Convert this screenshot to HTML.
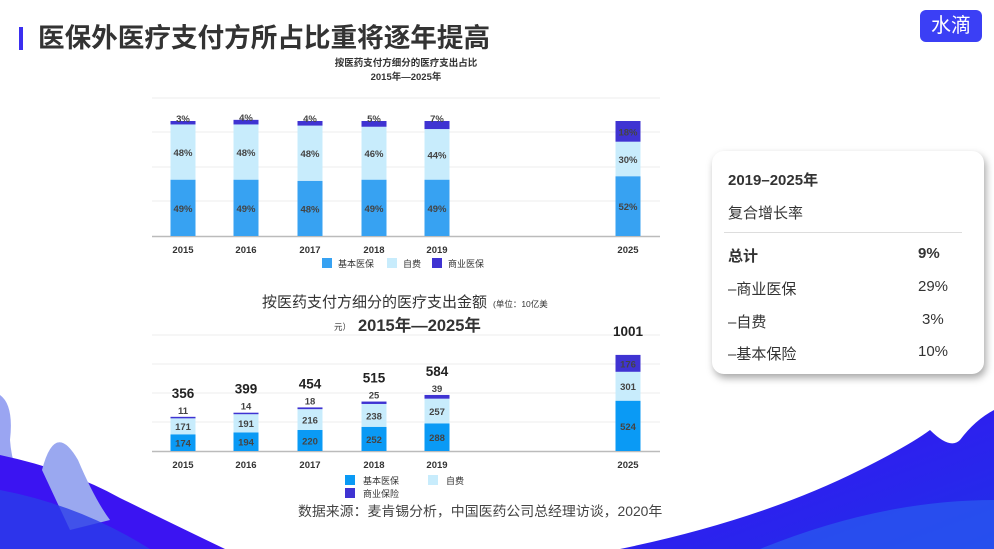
<!DOCTYPE html>
<html><head><meta charset="utf-8">
<style>
body{margin:0;width:994px;height:549px;overflow:hidden;background:#fff;font-family:"Liberation Sans","Noto Sans CJK SC",sans-serif;position:relative}
svg text{font-family:"Liberation Sans","Noto Sans CJK SC",sans-serif}
.panel{position:absolute;left:712px;top:151px;width:272px;height:223px;background:#fff;border-radius:12px;box-shadow:2px 4px 8px rgba(0,0,0,0.35)}
.panel div{position:absolute;color:#333;font-size:15px}
</style></head><body>
<svg width="994" height="549" style="position:absolute;left:0;top:0">
<defs>
<linearGradient id="rg" x1="0" y1="0" x2="1" y2="1"><stop offset="0" stop-color="#3a10f5"/><stop offset="1" stop-color="#2030e8"/></linearGradient>
</defs>
<path d="M0 395 Q14 405 10 440 Q12 470 30 500 L0 520Z" fill="#9aa5f2"/>
<path d="M0 455 Q70 470 120 498 Q175 525 225 549 L0 549Z" fill="#3b14f2"/>
<path d="M42 470 Q55 420 78 460 Q95 500 110 520 L70 530Z" fill="#9aa8f0"/>
<path d="M0 490 Q80 505 150 549 L0 549Z" fill="#2a3ce8" opacity="0.8"/>
<path d="M620 549 Q760 520 860 470 Q910 445 930 430 Q950 450 960 440 Q975 420 994 410 L994 549Z" fill="url(#rg)"/>
<path d="M760 549 Q880 500 994 500 L994 549Z" fill="#2a5df0" opacity="0.7"/>
</svg>

<div style="position:absolute;left:19px;top:27px;width:4px;height:23px;background:#3b2ff0"></div>
<div style="position:absolute;left:38px;top:21px;font-size:26.6px;font-weight:bold;color:#333;line-height:34px">医保外医疗支付方所占比重将逐年提高</div>
<div style="position:absolute;left:920px;top:10px;width:62px;height:32px;background:#3b3ff5;border-radius:6px;color:#fff;font-size:20px;text-align:center;line-height:32px">水滴</div>

<svg id="c1" width="994" height="549" style="position:absolute;left:0;top:0"></svg>

<div class="panel">
<div style="left:16px;top:18px;font-weight:bold">2019–2025年</div>
<div style="left:16px;top:51px">复合增长率</div>
<div style="left:12px;top:81px;width:238px;height:1px;background:#ddd"></div>
<div style="left:16px;top:94px;font-weight:bold">总计</div>
<div style="left:206px;top:94px;font-weight:bold">9%</div>
<div style="left:16px;top:127px">–商业医保</div>
<div style="left:206px;top:127px">29%</div>
<div style="left:16px;top:160px">–自费</div>
<div style="left:210px;top:160px">3%</div>
<div style="left:16px;top:192px">–基本保险</div>
<div style="left:206px;top:192px">10%</div>
</div>

<div style="position:absolute;left:298px;top:501px;font-size:13.9px;color:#444">数据来源：麦肯锡分析，中国医药公司总经理访谈，2020年</div>

<script>
const years = ["2015","2016","2017","2018","2019","2025"];
const shareBasic = [49,49,48,49,49,52];
const shareSelf = [48,48,48,46,44,30];
const shareComm = [3,4,4,5,7,18];
const amtBasic = [174,194,220,252,288,524];
const amtSelf = [171,191,216,238,257,301];
const amtComm = [11,14,18,25,39,176];
const amtTotal = [356,399,454,515,584,1001];

const NS="http://www.w3.org/2000/svg";
const svg=document.getElementById('c1');
const xPos=[183,246,310,374,437,628];
const BW=25;
const C_B="#37a2f2", C_S="#c8ecfc", C_C="#3f33d2";
const C_B2="#0a9af5";
function el(tag,attrs,txt){const e=document.createElementNS(NS,tag);for(const k in attrs)e.setAttribute(k,attrs[k]);if(txt!==undefined)e.textContent=txt;svg.appendChild(e);return e;}
function xOf(i){return xPos[i];}

// ---------- chart 1 (share) ----------
const y1Base=236, y1Scale=1.15;
function y1(v){return y1Base-v*y1Scale;}
let t=el('text',{x:406,y:66,'font-size':9.5,'font-weight':'bold','text-anchor':'middle',fill:'#333'},'按医药支付方细分的医疗支出占比');


t=el('text',{x:406,y:80,'font-size':9.5,'font-weight':'bold','text-anchor':'middle',fill:'#333'},'2015年—2025年');


[98,132,167,201].forEach(gy=>{const g=el('line',{x1:152,x2:660,y1:gy,y2:gy,stroke:'#eee','stroke-width':1});

});
let ax=el('line',{x1:152,x2:660,y1:y1Base+0.5,y2:y1Base+0.5,stroke:'#bbb','stroke-width':1.5});


years.forEach((yr,i)=>{
  const x=xOf(i)-BW/2;
  const segs=[[shareBasic[i],C_B,'basic'],[shareSelf[i],C_S,'self'],[shareComm[i],C_C,'commercial']];
  let cum=0;
  segs.forEach(([v,c,n])=>{
    const r=el('rect',{x:x,y:y1(cum+v),width:BW,height:v*y1Scale,fill:c});
    
    
    const ly = v<10 ? y1(cum+v)+1 : y1(cum+v/2)+4;
    const l=el('text',{x:xOf(i),y:ly,'font-size':9.5,'font-weight':'bold','text-anchor':'middle',fill:'#444'},v+'%');
    
    
    cum+=v;
  });
  const xl=el('text',{x:xOf(i),y:253,'font-size':9.5,'font-weight':'bold','text-anchor':'middle',fill:'#333'},yr);
  
  
});
[[322,C_B,'基本医保','basic'],[387,C_S,'自费','self'],[432,C_C,'商业医保','commercial']].forEach(([lx,c,s,n])=>{
  const r=el('rect',{x:lx,y:258,width:10,height:10,fill:c});
  
  
  const l=el('text',{x:lx+16,y:267,'font-size':9,fill:'#333'},s);
  
  
});

// ---------- chart 2 (amount) ----------
const y2Base=451, y2Scale=0.096;
function y2(v){return y2Base-v*y2Scale;}
t=el('text',{x:262,y:307,'font-size':15,fill:'#333'},'按医药支付方细分的医疗支出金额');


t=el('text',{x:493,y:307,'font-size':8.5,fill:'#333'},'(单位：10亿美');


t=el('text',{x:334,y:330,'font-size':8.5,fill:'#333'},'元）');


t=el('text',{x:358,y:331,'font-size':16.5,'font-weight':'bold',fill:'#333'},'2015年—2025年');


[335,364,393,422].forEach(gy=>{const g=el('line',{x1:152,x2:660,y1:gy,y2:gy,stroke:'#eee','stroke-width':1});

});
ax=el('line',{x1:152,x2:660,y1:y2Base+0.5,y2:y2Base+0.5,stroke:'#bbb','stroke-width':1.5});


years.forEach((yr,i)=>{
  const x=xOf(i)-BW/2;
  const segs=[[amtBasic[i],C_B2,'basic'],[amtSelf[i],C_S,'self'],[amtComm[i],C_C,'commercial']];
  let cum=0;
  segs.forEach(([v,c,n])=>{
    const r=el('rect',{x:x,y:y2(cum+v),width:BW,height:Math.max(v*y2Scale,1.5),fill:c});
    
    
    const h=v*y2Scale;
    const ly = h<10 ? y2(cum+v)-3 : y2(cum+v/2)+4;
    const l=el('text',{x:xOf(i),y:ly,'font-size':9.5,'font-weight':'bold','text-anchor':'middle',fill:'#444'},v);
    
    
    cum+=v;
  });
  const tl=el('text',{x:xOf(i),y:y2(amtTotal[i])-19,'font-size':13.5,'font-weight':'bold','text-anchor':'middle',fill:'#222'},amtTotal[i]);
  
  
  const xl=el('text',{x:xOf(i),y:468,'font-size':9.5,'font-weight':'bold','text-anchor':'middle',fill:'#333'},yr);
  
  
});
[[345,475,C_B2,'基本医保','basic'],[428,475,C_S,'自费','self'],[345,488,C_C,'商业保险','commercial']].forEach(([lx,ly,c,s,n])=>{
  const r=el('rect',{x:lx,y:ly,width:10,height:10,fill:c});
  
  
  const l=el('text',{x:lx+18,y:ly+9,'font-size':9,fill:'#333'},s);
  
  
});
</script>
</body></html>
